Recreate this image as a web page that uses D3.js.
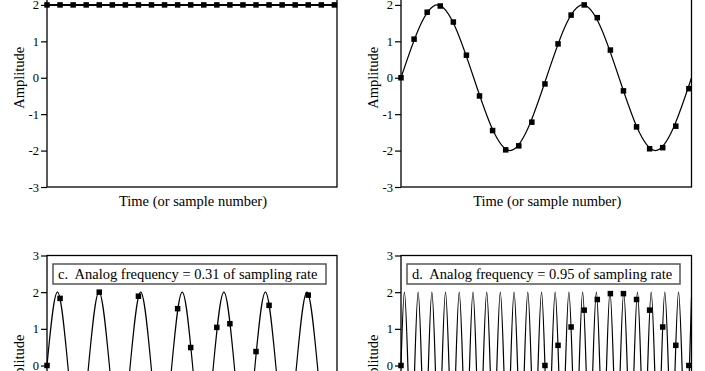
<!DOCTYPE html>
<html>
<head>
<meta charset="utf-8">
<script src="https://cdn.jsdelivr.net/npm/d3@7"></script>
<style>
  body { margin: 0; background: #fff; }
  svg { display: block; font-family: "Liberation Serif", "Times New Roman", serif; }
</style>
</head>
<body>
<script>
// sample numbers and amplitude ticks
let sampleNumbers = [0,1,2,3,4,5,6,7,8,9,10,11,12,13,14,15,16,17,18,19,20,21,22];
let yTicks = [-3,-2,-1,0,1,2,3];

let samplesA = [2,2,2,2,2,2,2,2,2,2,2,2,2,2,2,2,2,2,2,2,2,2,2];
let samplesB = [0,1.06,1.80,1.97,1.53,0.62,-0.50,-1.45,-1.98,-1.87,-1.22,-0.17,0.93,1.72,2.00,1.65,0.76,-0.36,-1.35,-1.95,-1.92,-1.33,-0.30];
let samplesC = [0,1.83,-1.44,-0.71,2.00,-0.85,-1.33,1.89,-0.30,-1.77,1.55,0.49,-1.99,1.04,1.14,-1.94,0.38,1.64,-1.63,-0.42,1.92,-1.11,-1.09];
let samplesD = [0,-0.56,-1.08,-1.51,-1.82,-1.98,-1.98,-1.82,-1.51,-1.08,-0.56,0,0.55,1.05,1.51,1.80,1.96,1.96,1.80,1.51,1.05,0.55,0];

// analog signal: start, crests / troughs, end  ([time, amplitude])
let analogA = [[0,2],[22.2,2]];
let analogB = [[0,0],[2.78,2],[8.33,-2],[13.89,2],[19.44,-2],[22.2,0]];
let analogC = [[0,0],[0.80,2],[2.39,-2],[3.98,2],[5.57,-2],[7.17,2],[8.76,-2],[10.35,2],[11.94,-2],
               [13.54,2],[15.13,-2],[16.72,2],[18.31,-2],[19.90,2],[21.50,-2],[22.2,-0.35]];
let dPeaks   = [0.26,1.31,2.36,3.40,4.45,5.50,6.55,7.59,8.64,9.69,10.74,11.78,12.83,13.88,14.93,15.97,17.02,18.07,19.12,20.16,21.21];
let dTroughs = [0.79,1.83,2.88,3.93,4.98,6.02,7.07,8.12,9.17,10.21,11.26,12.31,13.36,14.40,15.45,16.50,17.55,18.59,19.64,20.69,21.74];
let analogD = [[0,0]]
  .concat(dPeaks.map(t => [t, 2]), dTroughs.map(t => [t, -2]))
  .sort((a, b) => a[0] - b[0])
  .concat([[22.2, 1.86]]);

let legendC = "c.  Analog frequency = 0.31 of sampling rate";
let legendD = "d.  Analog frequency = 0.95 of sampling rate";

let width = 705, height = 371;

let svg = d3.select("body").append("svg")
  .attr("width", width)
  .attr("height", height);

let panels = [
  {left: 47,  right: 337,   top: -31.5, bottom: 187,   samples: samplesA, analog: analogA, lw: 2,   xlabel: true},
  {left: 401, right: 691.5, top: -31.5, bottom: 187,   samples: samplesB, analog: analogB, lw: 1.2, xlabel: true},
  {left: 47,  right: 337,   top: 255.5, bottom: 475.5, samples: samplesC, analog: analogC, lw: 1.2, legend: legendC},
  {left: 401, right: 691.5, top: 255.5, bottom: 475.5, samples: samplesD, analog: analogD, lw: 1.2, legend: legendD}
];

panels.forEach(p => {
  let x = d3.scaleLinear().domain([0, 22.2]).range([p.left, p.right]);
  let y = d3.scaleLinear().domain([-3, 3]).range([p.bottom, p.top]);
  let g = svg.append("g");

  // analog signal
  let line = d3.line()
    .x(d => x(d[0]))
    .y(d => y(d[1]))
    .curve(d3.curveMonotoneX);
  g.append("path")
    .datum(p.analog)
    .attr("d", line)
    .attr("fill", "none")
    .attr("stroke", "#000")
    .attr("stroke-width", p.lw);

  // frame
  g.append("rect")
    .attr("x", p.left)
    .attr("y", p.top)
    .attr("width", p.right - p.left)
    .attr("height", p.bottom - p.top)
    .attr("fill", "none")
    .attr("stroke", "#000")
    .attr("stroke-width", 1.3);

  // y axis
  let yaxis = d3.axisLeft(y).tickValues(yTicks).tickSize(6).tickPadding(2).tickFormat(d => String(d));
  let ag = g.append("g")
    .attr("transform", "translate(" + p.left + ",0)")
    .call(yaxis);
  ag.select(".domain").remove();
  ag.selectAll("text")
    .attr("font-family", "Liberation Serif, Times New Roman, serif")
    .attr("font-size", 12.5)
    .attr("fill", "#000");
  ag.selectAll("line").attr("stroke", "#000").attr("stroke-width", 1.2);

  // samples
  let s = 5.5;
  g.selectAll("rect.sample")
    .data(sampleNumbers)
    .enter()
    .append("rect")
      .attr("class", "sample")
      .attr("x", d => x(d) - s / 2)
      .attr("y", (d, i) => y(p.samples[i]) - s / 2)
      .attr("width", s)
      .attr("height", s)
      .attr("fill", "#000");

  // axis titles
  g.append("text")
    .attr("transform", "translate(" + (p.left - 23) + "," + y(0) + ") rotate(-90)")
    .attr("text-anchor", "middle")
    .attr("font-size", 14.5)
    .text("Amplitude");

  if (p.xlabel) {
    g.append("text")
      .attr("x", (p.left + p.right) / 2 + 1)
      .attr("y", p.bottom + 19)
      .attr("text-anchor", "middle")
      .attr("font-size", 14.5)
      .text("Time (or sample number)");
  }

  if (p.legend) {
    g.append("rect")
      .attr("x", p.left + 6)
      .attr("y", 264)
      .attr("width", 273)
      .attr("height", 20)
      .attr("fill", "#fff")
      .attr("stroke", "#555")
      .attr("stroke-width", 1.5);
    g.append("text")
      .attr("x", p.left + 11)
      .attr("y", 279)
      .attr("font-size", 14.5)
      .attr("xml:space", "preserve")
      .style("white-space", "pre")
      .text(p.legend);
  }
});
</script>
</body>
</html>
